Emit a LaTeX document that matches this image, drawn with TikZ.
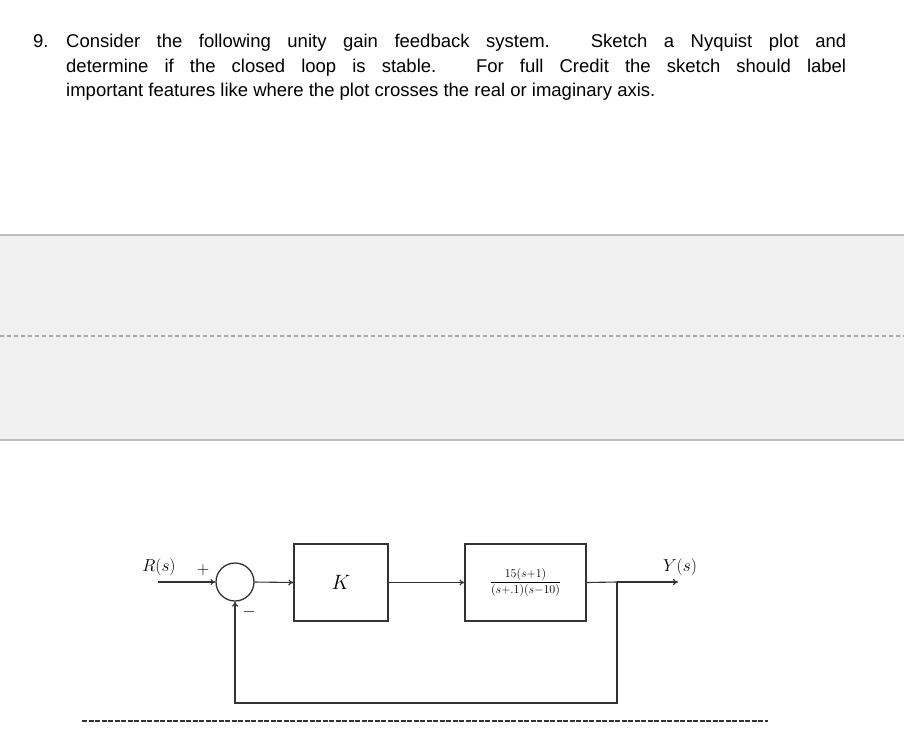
\documentclass[tikz,border=0pt]{standalone}
\usepackage{fontspec}
\setmainfont{Liberation Sans}
\usetikzlibrary{arrows.meta}
\definecolor{band}{HTML}{F1F1F1}
\definecolor{bandline}{HTML}{BBBEC1}
\definecolor{dashgray}{HTML}{A8A8A8}
\definecolor{ink}{HTML}{333333}
\begin{document}
\begin{tikzpicture}[x=1pt,y=-1pt,
  txt/.style={anchor=base west,inner sep=0,font=\fontsize{18.5}{22}\selectfont},
  blk/.style={draw=ink,line width=1.3pt,minimum width=#1,minimum height=77pt,inner sep=0},
  wire/.style={draw=ink,line width=1.1pt},
  arr/.style={wire,-{To[length=5pt,width=6pt]}},
  lbl/.style={inner sep=0,font=\fontsize{17}{20}\selectfont}]
\useasboundingbox (0,0) rectangle (904,742);
% header text
\node[txt] (num) at (33,47) {9.};
\node[txt] (l1) at (66,47) {\makebox[780pt][s]{Consider the following unity gain feedback system. Sketch a Nyquist plot and}};
\node[txt] (l2) at (66,72) {\makebox[780pt][s]{determine if the closed loop is stable. For full Credit the sketch should label}};
\node[txt] (l3) at (66,96) {important features like where the plot crosses the real or imaginary axis.};
% answer band
\fill[band] (0,235) rectangle (904,440);
\draw[bandline,line width=1.5pt] (0,235) -- (904,235);
\draw[bandline,line width=1.5pt] (0,440) -- (904,440);
\draw[dashgray,line width=1.3pt,dash pattern=on 4pt off 3pt] (0,336) -- (904,336);
% block diagram
\coordinate (in) at (158,582);
\node[draw=ink,line width=1.3pt,circle,minimum size=38pt,inner sep=0] (sum) at (235,582) {};
\node[blk=94pt] (K) at (341,582.5) {\fontsize{20}{24}\selectfont$K$};
\node[blk=121pt] (G) at (525.5,582.5) {\fontsize{13}{16}\selectfont$\displaystyle\frac{15(s{+}1)}{(s{+}.1)(s{-}10)}$};
\coordinate (br) at (617,582);
\coordinate (out) at (678,582);
\coordinate (fb1) at (617,703);
\coordinate (fb2) at (235,703);
\node[lbl] (R) at (159,567) {$R(s)$};
\node[lbl] (plus) at (203,570) {$+$};
\node[lbl] (minus) at (249,612) {$-$};
\node[lbl] (Y) at (680,567) {$Y(s)$};
\draw[arr] (in) -- (sum.west);
\draw[arr] (sum.east) -- (K.west);
\draw[arr] (K.east) -- (G.west);
\draw[wire] (G.east) -- (br);
\draw[arr] (br) -- (out);
\draw[arr] (br) -- (fb1) -- (fb2) -- (sum.south);
\draw[ink,line width=1.3pt,dash pattern=on 5pt off 1.5pt] (82,721) -- (768,721);
\end{tikzpicture}
\end{document}
